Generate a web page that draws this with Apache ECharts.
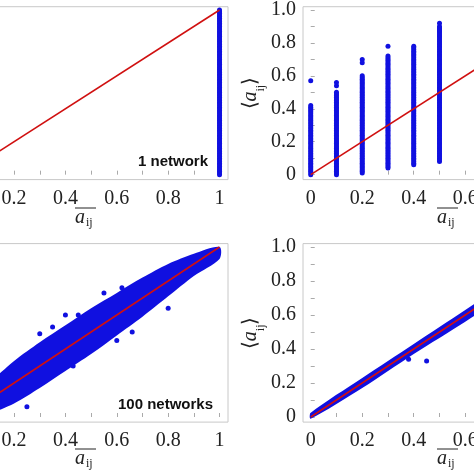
<!DOCTYPE html><html><head><meta charset="utf-8">
<script src="https://cdn.jsdelivr.net/npm/echarts@6/dist/echarts.min.js"></script>
<style>html,body{margin:0;padding:0;background:#fff;overflow:hidden}#c{position:absolute;left:-80px;top:0;width:680px;height:474px}</style></head><body><div id="c"></div>
<script>
const tickVals=[0,0.2,0.4,0.6,0.8,1];
const minorVals=[0,0.1,0.2,0.3,0.4,0.5,0.6,0.7,0.8,0.9,1];
// top-left: single network, all at x=1
const tlY=[0,0.05,0.1,0.15,0.2,0.25,0.3,0.35,0.4,0.45,0.5,0.55,0.6,0.65,0.7,0.75,0.8,0.85,0.9,0.95,1.0];
// top-right columns
const trX=[0,0.1,0.2,0.3,0.4,0.5];
const trLow=[0,0,0.01,0.04,0.06,0.08];
const trHigh=[0.42,0.5,0.6,0.72,0.78,0.9];
const trOut=[[0,0.57],[0.1,0.56],[0.1,0.54],[0.2,0.7],[0.2,0.68],[0.3,0.78],[0.5,0.92],[0.5,0.88]];
// bottom-left band (100 networks)
const blX=[0,0.1,0.2,0.3,0.4,0.5,0.6,0.7,0.8,0.9,1.0];
const blLow=[0,0.02,0.08,0.17,0.27,0.37,0.48,0.59,0.71,0.83,0.93];
const blHigh=[0.1,0.2,0.33,0.44,0.54,0.64,0.73,0.82,0.9,0.96,1.0];
const blOut=[[0.3,0.49],[0.35,0.53],[0.4,0.6],[0.45,0.6],[0.62,0.76],[0.25,0.06],[0.43,0.3],[0.66,0.5],[0.8,0.64],[0.6,0.45],[0.55,0.73]];
// bottom-right band
const brX=[0,0.2,0.4,0.6,0.8,1.0];
const brLow=[-0.01,0.17,0.37,0.56,0.76,0.96];
const brHigh=[0.025,0.23,0.43,0.63,0.83,1.02];
const brOut=[[0.45,0.33],[0.38,0.34]];

const BLUE='#1010e0', RED='#d01010';
const serif='Liberation Serif';
const OX=80;
function fmt(isY){return v=>{v=Math.round(v*10)/10;if(v===0)return '0';if(v===1)return isY?'1.0':'1';return v.toFixed(1);};}
function xAx(i,min,max){return {gridIndex:i,type:'value',min:min,max:max,
 axisLine:{show:false},splitLine:{show:false},
 axisTick:{show:true,inside:true,length:4,lineStyle:{color:'#aaa'},customValues:minorVals},
 axisLabel:{customValues:tickVals,formatter:fmt(false),fontFamily:serif,fontSize:20,color:'#222',margin:9}};}
function yAx(i,name){return {gridIndex:i,type:'value',min:-0.03,max:1.02,
 axisLine:{show:false},splitLine:{show:false},
 axisTick:{show:true,inside:true,length:4,lineStyle:{color:'#aaa'},customValues:minorVals},
 axisLabel:{customValues:tickVals,formatter:fmt(true),fontFamily:serif,fontSize:20,color:'#222',margin:7},
 name:name?'{b|⟨}{a|a}{s|ij}{b|⟩}':'',nameLocation:'middle',nameGap:40,nameRotate:90,
 nameTextStyle:{rich:{a:{fontFamily:serif,fontStyle:'italic',fontSize:20,color:'#222'},s:{fontFamily:serif,fontSize:12,color:'#222',verticalAlign:'bottom',padding:[0,0,-6,0]},b:{fontFamily:serif,fontSize:20,color:'#222'}}}};}
function band(i,X,L,H){
 return {type:'custom',xAxisIndex:i,yAxisIndex:i,data:[0],silent:true,z:1,
  renderItem:(p,api)=>{const pts=[];X.forEach((x,k)=>pts.push(api.coord([x,H[k]])));
   for(let k=X.length-1;k>=0;k--)pts.push(api.coord([X[k],L[k]]));
   return {type:'polygon',shape:{points:pts,smooth:0.3},style:{fill:BLUE}};}};}
function red(i){return {type:'line',xAxisIndex:i,yAxisIndex:i,data:[[0,0],[1,1]],symbol:'none',lineStyle:{color:RED,width:1.6},z:5};}
function pts(i,d){return {type:'scatter',xAxisIndex:i,yAxisIndex:i,data:d,symbolSize:5,itemStyle:{color:BLUE,opacity:1}};}
const colPts=[];
trX.forEach((x,k)=>{for(let y=trLow[k];y<=trHigh[k]+1e-9;y+=0.01)colPts.push([x,y]);});
const tlCol=[];tlY.forEach((y,k)=>{for(let d=0;d<0.05-1e-9&&(k<tlY.length-1||d===0);d+=0.01)tlCol.push([1,y+d]);});

const grids=[{left:OX-58,top:3.6,width:286,height:176},{left:OX+303,top:3.6,width:273,height:176},
 {left:OX-58,top:243.6,width:286,height:178.5},{left:OX+303,top:243.6,width:273,height:178.5}]
 .map(g=>Object.assign(g,{show:true,borderColor:'#c8c8c8',borderWidth:1,backgroundColor:'#fff',containLabel:false}));
const ch=echarts.init(document.getElementById('c'));
ch.setOption({animation:false,grid:grids,
 xAxis:[xAx(0,-0.03,1.033),xAx(1,-0.03,1.03),xAx(2,-0.03,1.033),xAx(3,-0.03,1.03)],
 yAxis:[yAx(0,false),yAx(1,true),yAx(2,false),yAx(3,true)],
 series:[pts(0,tlCol),red(0),pts(1,colPts),pts(1,trOut),red(1),
  band(2,blX,blLow,blHigh),pts(2,blOut),red(2),
  band(3,brX,brLow,brHigh),pts(3,brOut),red(3)],
 graphic:[
  {type:'text',left:OX+138,top:154,style:{text:'1 network',font:'bold 15px "Liberation Sans"',fill:'#111'}},
  {type:'text',left:OX+118,top:397,style:{text:'100 networks',font:'bold 15px "Liberation Sans"',fill:'#111'}},
  ...[[75,207],[437,207],[75,448],[437,448]].flatMap(([x,y])=>[
   {type:'text',x:OX+x,y:y+1,style:{text:'a',font:'italic 20px "Liberation Serif"',fill:'#222'}},
   {type:'text',x:OX+x+11,y:y+10,style:{text:'ij',font:'12px "Liberation Serif"',fill:'#222'}},
   {type:'line',shape:{x1:OX+x,y1:y+1,x2:OX+x+21,y2:y+1},style:{stroke:'#222',lineWidth:1}}])
 ]});
</script></body></html>
